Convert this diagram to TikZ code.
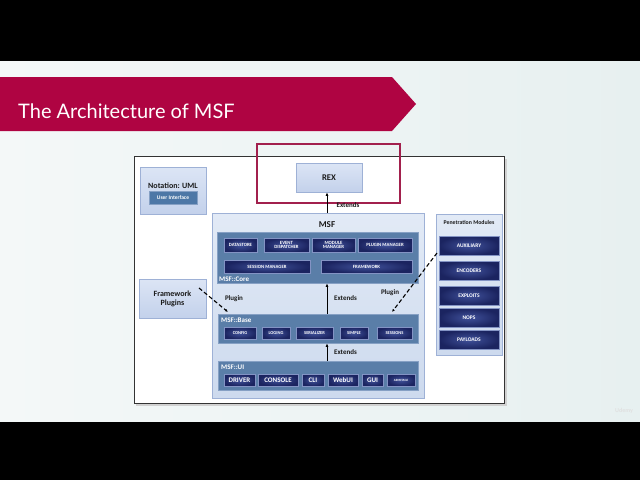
\documentclass[tikz,border=0pt]{standalone}
\usepackage{fontspec}
\setmainfont{Carlito}
\newfontfamily\titlefont{Lato}
\usetikzlibrary{arrows.meta}
\newcommand\myfs[1]{\fontsize{#1}{#1}\selectfont}
\definecolor{banner}{HTML}{AF0442}
\definecolor{redframe}{HTML}{A2204D}
\definecolor{lightA}{HTML}{DCE5F5}
\definecolor{lightB}{HTML}{C3D1EB}
\definecolor{lightE}{HTML}{9EB1D6}
\definecolor{paleA}{HTML}{E2EAF6}
\definecolor{paleB}{HTML}{CDDAEE}
\definecolor{steel}{HTML}{5A7EA8}
\definecolor{steelE}{HTML}{86A0C4}
\definecolor{navyI}{HTML}{40519A}
\definecolor{navyO}{HTML}{1B2460}
\definecolor{navyE}{HTML}{8393C4}
\definecolor{uiblue}{HTML}{4D77A6}
\definecolor{txt}{HTML}{1A1A1A}
\definecolor{slideL}{HTML}{F4F8F8}
\definecolor{slideR}{HTML}{E7F0F0}
\tikzset{
  lbox/.style={draw=lightE, line width=0.8pt, top color=lightA, bottom color=lightB, inner sep=0pt},
  pbox/.style={draw=lightE, line width=0.8pt, top color=paleA, bottom color=paleB, inner sep=0pt},
  sbox/.style={draw=steelE, line width=0.8pt, fill=steel, inner sep=0pt},
  btn/.style={draw=navyE, line width=0.4pt, inner color=navyI, outer color=navyO, text=white, font=\bfseries\myfs{4.8}, align=center, inner sep=0pt},
  lbl/.style={text=txt, font=\bfseries\myfs{7}, inner sep=0pt},
  wlbl/.style={text=white, font=\bfseries\myfs{7}, inner sep=0pt, anchor=west},
  ext/.style={-{Latex[length=3.5pt,width=3pt]}, line width=0.9pt, draw=black},
  plug/.style={-{Latex[length=3pt,width=2.6pt]}, line width=1.1pt, draw=black, dash pattern=on 4pt off 2.5pt}
}
\begin{document}
\begin{tikzpicture}[x=1pt,y=-1pt]
\useasboundingbox (0,0) rectangle (640,480);
% slide background
\fill[black] (0,0) rectangle (640,61);
\shade[left color=slideL, right color=slideR] (0,61) rectangle (640,422);
\fill[black] (0,422) rectangle (640,480);
% banner
\fill[banner] (0,77) -- (392,77) -- (416,104) -- (392,131) -- (0,131) -- cycle;
\node[anchor=west, text=white, font=\titlefont\myfs{20}, inner sep=0pt] (title) at (18,111) {The Architecture of MSF};
% frame
\fill[black!18] (136,159) rectangle (507,406);
\node[draw=black!80, fill=white, line width=0.8pt, minimum width=370pt, minimum height=247pt, inner sep=0pt] (frame) at (319,279.5) {};
% notation
\node[lbox, minimum width=66pt, minimum height=47pt] (nota) at (173,190.5) {};
\node[lbl, font=\bfseries\myfs{8}] (notat) at (173,185.5) {Notation: UML};
\node[draw=steelE, line width=0.4pt, fill=uiblue, text=white, font=\bfseries\myfs{5.5}, minimum width=48pt, minimum height=13pt, inner sep=0pt, anchor=north] (uibox) at (173,191) {User Interface};
% REX
\node[lbox, minimum width=66pt, minimum height=29pt, font=\bfseries\myfs{8.7}, text=txt] (rex) at (329,177.5) {REX};
% framework plugins
\node[lbox, minimum width=67pt, minimum height=39pt, font=\bfseries\myfs{8}, text=txt, align=center] (fp) at (172.5,298.5) {Framework\\[1pt]Plugins};
% MSF
\node[pbox, minimum width=212pt, minimum height=185pt] (msf) at (318,305.5) {};
\node[lbl, font=\bfseries\myfs{9}] (msft) at (327,225) {MSF};
% core
\node[sbox, minimum width=201pt, minimum height=51pt] (core) at (317.5,257.5) {};
\node[btn, minimum width=33pt, minimum height=14pt] (ds) at (240.5,245) {DATASTORE};
\node[btn, minimum width=45pt, minimum height=14pt] (ed) at (286.5,245) {EVENT\\DISPATCHER};
\node[btn, minimum width=43pt, minimum height=14pt] (mm) at (333.5,245) {MODULE\\MANAGER};
\node[btn, minimum width=54pt, minimum height=14pt] (pm) at (385,245) {PLUGIN MANAGER};
\node[btn, minimum width=86pt, minimum height=13pt] (sm) at (267,266.5) {SESSION MANAGER};
\node[btn, minimum width=91pt, minimum height=13pt] (fw) at (366.5,266.5) {FRAMEWORK};
\node[wlbl] (corel) at (219,279.5) {MSF::Core};
% base
\node[sbox, minimum width=200pt, minimum height=29pt] (base) at (318,328.5) {};
\node[wlbl] (basel) at (221,320) {MSF::Base};
\node[btn, font=\bfseries\myfs{4.5}, minimum width=32pt, minimum height=12pt] (cfg) at (240,333) {CONFIG};
\node[btn, font=\bfseries\myfs{4.5}, minimum width=28pt, minimum height=12pt] (log) at (276,333) {LOGING};
\node[btn, font=\bfseries\myfs{4.5}, minimum width=37pt, minimum height=12pt] (ser) at (314.5,333) {SERIALIZER};
\node[btn, font=\bfseries\myfs{4.5}, minimum width=28pt, minimum height=12pt] (smp) at (354,333) {SIMPLE};
\node[btn, font=\bfseries\myfs{4.5}, minimum width=35pt, minimum height=12pt] (ses) at (394.5,333) {SESSIONS};
% UI
\node[sbox, minimum width=200pt, minimum height=29pt] (ui) at (318,375.5) {};
\node[wlbl] (uil) at (221,367) {MSF::UI};
\node[btn, font=\bfseries\myfs{7}, minimum width=31pt, minimum height=12pt] (drv) at (239.5,380) {DRIVER};
\node[btn, font=\bfseries\myfs{7}, minimum width=40pt, minimum height=12pt] (con) at (278,380) {CONSOLE};
\node[btn, font=\bfseries\myfs{7}, minimum width=22pt, minimum height=12pt] (cli) at (313,380) {CLI};
\node[btn, font=\bfseries\myfs{7}, minimum width=30pt, minimum height=12pt] (web) at (343,380) {WebUI};
\node[btn, font=\bfseries\myfs{7}, minimum width=21pt, minimum height=12pt] (gui) at (372.5,380) {GUI};
\node[btn, font=\bfseries\myfs{3.2}, minimum width=28pt, minimum height=12pt] (arm) at (401,380) {ARMITAGE};
% penetration modules
\node[pbox, minimum width=66pt, minimum height=141pt] (pen) at (469,284.5) {};
\node[lbl, font=\bfseries\myfs{5.8}] (pent) at (469,222) {Penetration Modules};
\node[btn, font=\bfseries\myfs{5.5}, minimum width=60pt, minimum height=19pt] (aux) at (469,245.5) {AUXILIARY};
\node[btn, font=\bfseries\myfs{5.5}, minimum width=60pt, minimum height=19pt] (enc) at (469,270.5) {ENCODERS};
\node[btn, font=\bfseries\myfs{5.5}, minimum width=60pt, minimum height=19pt] (exp) at (469,295.5) {EXPLOITS};
\node[btn, font=\bfseries\myfs{5.5}, minimum width=60pt, minimum height=19pt] (nop) at (469,317.5) {NOPS};
\node[btn, font=\bfseries\myfs{5.5}, minimum width=60pt, minimum height=19pt] (pay) at (469,339.5) {PAYLOADS};
% highlight
\node[draw=redframe, line width=1.8pt, minimum width=143pt, minimum height=59pt, inner sep=0pt] (hl) at (328.5,173.5) {};
% arrows
\coordinate (ax) at (327,0);
\draw[ext] (msf.north -| ax) -- (rex.south -| ax);
\draw[ext] (base.north -| ax) -- (core.south -| ax);
\draw[ext] (ui.north -| ax) -- (base.south -| ax);
\node[lbl] (e1) at (348,205.5) {Extends};
\node[lbl] (e2) at (345.5,298) {Extends};
\node[lbl] (e3) at (345.5,352) {Extends};
\coordinate (p1s) at (199,288);
\coordinate (p1e) at (228,312);
\coordinate (p2s) at (437,253);
\coordinate (p2e) at (392,312);
\draw[plug] (p1s) -- (p1e);
\draw[plug] (p2s) -- (p2e);
\node[lbl] (pl1) at (234,299) {Plugin};
\node[lbl] (pl2) at (390,293) {Plugin};
% watermark
\node[text=black!12, font=\bfseries\myfs{6}, inner sep=0pt] (wm) at (624,411) {Udemy};
\end{tikzpicture}
\end{document}
